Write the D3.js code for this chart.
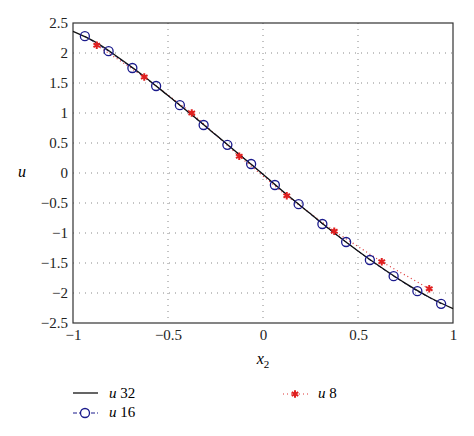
<!DOCTYPE html><html><head><script src="https://cdn.jsdelivr.net/npm/d3@7"></script>
<style>body{margin:0;background:#fff}svg text{font-family:"Liberation Serif","Times New Roman","DejaVu Serif",serif !important}</style></head><body>
<svg id="c" width="474" height="436"></svg>
<script>
const x32=[-1,-0.875,-0.75,-0.625,-0.5,-0.375,-0.25,-0.125,0,0.125,0.25,0.375,0.5,0.625,0.75,0.875,1];
const u32=[2.36,2.17,1.90,1.61,1.29,0.97,0.64,0.31,-0.02,-0.36,-0.68,-1.0,-1.30,-1.58,-1.84,-2.07,-2.26];
const x16=[-0.9375,-0.8125,-0.6875,-0.5625,-0.4375,-0.3125,-0.1875,-0.0625,0.0625,0.1875,0.3125,0.4375,0.5625,0.6875,0.8125,0.9375];
const u16=[2.28,2.03,1.75,1.45,1.13,0.80,0.47,0.15,-0.20,-0.52,-0.85,-1.15,-1.45,-1.72,-1.97,-2.18];
const x8=[-0.875,-0.625,-0.375,-0.125,0.125,0.375,0.625,0.875];
const u8=[2.13,1.60,1.00,0.28,-0.38,-0.97,-1.48,-1.93];
const xTicks=[-1,-0.5,0,0.5,1];
const yTicks=[-2.5,-2,-1.5,-1,-0.5,0,0.5,1,1.5,2,2.5];
const svg=d3.select("#c");
const x=d3.scaleLinear().domain([-1,1]).range([73,453]);
const y=d3.scaleLinear().domain([-2.5,2.5]).range([323,23]);
const fmt=d=>String(d).replace("-","\u2212");
svg.append("g").selectAll("line").data(xTicks.slice(1,-1)).join("line").attr("x1",x).attr("x2",x).attr("y1",23).attr("y2",323).attr("stroke","#888").attr("stroke-dasharray","1,5");
svg.append("g").selectAll("line").data(yTicks.slice(1,-1)).join("line").attr("y1",y).attr("y2",y).attr("x1",73).attr("x2",453).attr("stroke","#888").attr("stroke-dasharray","1,5");
svg.append("rect").attr("x",73).attr("y",23).attr("width",380).attr("height",300).attr("fill","none").attr("stroke","#333").attr("stroke-width",1.2);
const xa=svg.append("g").attr("transform","translate(0,323)").call(d3.axisBottom(x).tickValues(xTicks).tickFormat(fmt).tickSize(0).tickPadding(6));
const ya=svg.append("g").attr("transform","translate(73,0)").call(d3.axisLeft(y).tickValues(yTicks).tickFormat(fmt).tickSize(0).tickPadding(5));
[xa,ya].forEach(a=>{a.attr("font-family",null).attr("font-size",null);a.select(".domain").remove();a.selectAll("text").style("font-size","15px").attr("fill","#222");});
svg.append("text").attr("x",263).attr("y",364).attr("text-anchor","middle").style("font-size","16px").html('<tspan font-style="italic">x</tspan><tspan font-size="11" dy="4">2</tspan>');
svg.append("text").attr("x",22).attr("y",177).attr("text-anchor","middle").attr("font-style","italic").style("font-size","16px").text("u");
const line=d3.line().x(d=>x(d[0])).y(d=>y(d[1]));
svg.append("path").attr("d",line(d3.zip(x8,u8))).attr("fill","none").attr("stroke","#d33").attr("stroke-dasharray","1,3").attr("stroke-width",1.2);
svg.append("path").attr("d",line(d3.zip(x16,u16))).attr("fill","none").attr("stroke","#1a1a8c").attr("stroke-dasharray","4,2").attr("stroke-width",1);
svg.append("path").attr("d",d3.line().curve(d3.curveMonotoneX).x(d=>x(d[0])).y(d=>y(d[1]))(d3.zip(x32,u32))).attr("fill","none").attr("stroke","#111").attr("stroke-width",1.3);
svg.append("g").selectAll("circle").data(d3.zip(x16,u16)).join("circle").attr("cx",d=>x(d[0])).attr("cy",d=>y(d[1])).attr("r",4.5).attr("fill","none").attr("stroke","#1a1a8c").attr("stroke-width",1.3);
const star=d3.symbol().type(d3.symbolAsterisk).size(40);
svg.append("g").selectAll("path").data(d3.zip(x8,u8)).join("path").attr("transform",d=>`translate(${x(d[0])},${y(d[1])})`).attr("d",star).attr("stroke","#e02020").attr("stroke-width",2).attr("fill","none");
const lg=svg.append("g");
lg.append("line").attr("x1",73).attr("x2",98).attr("y1",393).attr("y2",393).attr("stroke","#111").attr("stroke-width",1.3);
lg.append("text").attr("x",109).attr("y",398).style("font-size","15px").html('<tspan font-style="italic">u</tspan> 32');
lg.append("line").attr("x1",73).attr("x2",98).attr("y1",413).attr("y2",413).attr("stroke","#1a1a8c").attr("stroke-dasharray","4,2");
lg.append("circle").attr("cx",85).attr("cy",413).attr("r",4.5).attr("fill","#fff").attr("stroke","#1a1a8c").attr("stroke-width",1.3);
lg.append("text").attr("x",109).attr("y",417).style("font-size","15px").html('<tspan font-style="italic">u</tspan> 16');
lg.append("line").attr("x1",283).attr("x2",308).attr("y1",394).attr("y2",394).attr("stroke","#d33").attr("stroke-dasharray","1,3");
lg.append("path").attr("transform","translate(295,394)").attr("d",star).attr("stroke","#e02020").attr("stroke-width",2);
lg.append("text").attr("x",318).attr("y",398).style("font-size","15px").html('<tspan font-style="italic">u</tspan> 8');
</script></body></html>
